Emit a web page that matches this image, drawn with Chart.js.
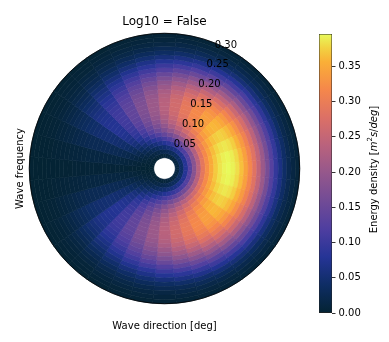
<!DOCTYPE html>
<html>
<head>
    <title>Wave spectrum</title>
    <script src="https://cdn.jsdelivr.net/npm/chart.js"></script>
    <style>
        body { margin: 0; background: #fff; }
        #wrap { position: relative; width: 389px; height: 342px; }
        #wrap canvas { position: absolute; top: 0; }
    </style>
</head>
<body>
<div id="wrap">
    <canvas id="polarChart" width="389" height="342" style="left:0"></canvas>
    <canvas id="cbarChart" width="89" height="342" style="left:300px"></canvas>
</div>
<script>
// frequency bins (Hz), direction bins (deg, nautical, clockwise from N)
const frequencies = [0.03, 0.04, 0.05, 0.06, 0.07, 0.08, 0.09, 0.10, 0.11, 0.12, 0.13, 0.14, 0.15, 0.16,
    0.17, 0.18, 0.19, 0.20, 0.21, 0.22, 0.23, 0.24, 0.25, 0.26, 0.27, 0.28, 0.29, 0.30, 0.31];
const directions = [0, 10, 20, 30, 40, 50, 60, 70, 80, 90, 100, 110, 120, 130, 140, 150, 160, 170,
    180, 190, 200, 210, 220, 230, 240, 250, 260, 270, 280, 290, 300, 310, 320, 330, 340, 350];

// energy density, one row per frequency, one column per direction
const energy = [
    [.007,.008,.009,.010,.010,.011,.011,.012,.012,.012,.012,.012,.011,.011,.010,.010,.009,.008,.007,.006,.005,.004,.003,.002,.002,.001,0,0,0,.001,.002,.002,.003,.004,.005,.006],
    [.024,.027,.030,.032,.034,.036,.038,.039,.040,.040,.040,.039,.038,.036,.034,.032,.030,.027,.024,.021,.018,.014,.011,.008,.005,.003,.001,0,.001,.003,.005,.008,.011,.014,.018,.021],
    [.048,.054,.059,.064,.069,.073,.076,.078,.080,.080,.080,.078,.076,.073,.069,.064,.059,.054,.048,.042,.035,.028,.022,.016,.010,.006,.002,.001,.002,.006,.010,.016,.022,.028,.035,.042],
    [.078,.087,.096,.105,.112,.119,.124,.127,.129,.130,.129,.127,.124,.119,.112,.105,.096,.087,.078,.068,.057,.046,.035,.025,.016,.009,.004,.001,.004,.009,.016,.025,.035,.046,.057,.068],
    [.111,.124,.137,.149,.159,.169,.176,.181,.184,.185,.184,.181,.176,.169,.159,.149,.137,.124,.111,.096,.081,.066,.050,.036,.023,.013,.006,.002,.006,.013,.023,.036,.050,.066,.081,.096],
    [.144,.161,.178,.193,.207,.219,.228,.235,.239,.240,.239,.235,.228,.219,.207,.193,.178,.161,.144,.125,.106,.085,.065,.047,.030,.017,.007,.002,.007,.017,.030,.047,.065,.085,.106,.125],
    [.174,.194,.215,.233,.250,.264,.276,.284,.289,.290,.289,.284,.276,.264,.250,.233,.215,.194,.174,.151,.128,.103,.078,.057,.036,.020,.009,.003,.009,.020,.036,.057,.078,.103,.128,.151],
    [.195,.218,.241,.262,.280,.296,.309,.318,.323,.325,.323,.318,.309,.296,.280,.262,.241,.218,.195,.169,.143,.115,.088,.063,.041,.023,.010,.003,.010,.023,.041,.063,.088,.115,.143,.169],
    [.211,.236,.260,.283,.303,.321,.334,.344,.350,.352,.350,.344,.334,.321,.303,.283,.260,.236,.211,.183,.155,.125,.095,.069,.044,.025,.011,.004,.011,.025,.044,.069,.095,.125,.155,.183],
    [.223,.249,.275,.299,.321,.339,.353,.364,.370,.372,.370,.364,.353,.339,.321,.299,.275,.249,.223,.193,.164,.132,.100,.073,.047,.026,.011,.004,.011,.026,.047,.073,.100,.132,.164,.193],
    [.231,.258,.285,.310,.332,.351,.366,.377,.383,.385,.383,.377,.366,.351,.332,.310,.285,.258,.231,.200,.169,.137,.104,.075,.048,.027,.012,.004,.012,.027,.048,.075,.104,.137,.169,.200],
    [.236,.263,.291,.316,.339,.358,.373,.384,.391,.393,.391,.384,.373,.358,.339,.316,.291,.263,.236,.204,.173,.140,.106,.077,.049,.028,.012,.004,.012,.028,.049,.077,.106,.140,.173,.204],
    [.238,.265,.293,.319,.341,.361,.376,.387,.394,.396,.394,.387,.376,.361,.341,.319,.293,.265,.238,.206,.174,.141,.107,.077,.050,.028,.012,.004,.012,.028,.050,.077,.107,.141,.174,.206],
    [.235,.263,.290,.316,.338,.358,.372,.383,.390,.392,.390,.383,.372,.358,.338,.316,.290,.263,.235,.204,.172,.139,.106,.076,.049,.027,.012,.004,.012,.027,.049,.076,.106,.139,.172,.204],
    [.229,.256,.283,.308,.329,.348,.363,.374,.380,.382,.380,.374,.363,.348,.329,.308,.283,.256,.229,.199,.168,.136,.103,.074,.048,.027,.011,.004,.011,.027,.048,.074,.103,.136,.168,.199],
    [.220,.245,.271,.295,.315,.334,.348,.358,.364,.366,.364,.358,.348,.334,.315,.295,.271,.245,.220,.190,.161,.130,.099,.071,.046,.026,.011,.004,.011,.026,.046,.071,.099,.130,.161,.190],
    [.206,.230,.255,.277,.297,.314,.327,.336,.342,.344,.342,.336,.327,.314,.297,.277,.255,.230,.206,.179,.151,.122,.093,.067,.043,.024,.010,.003,.010,.024,.043,.067,.093,.122,.151,.179],
    [.190,.212,.234,.254,.272,.288,.300,.309,.314,.316,.314,.309,.300,.288,.272,.254,.234,.212,.190,.164,.139,.112,.085,.062,.040,.022,.009,.003,.009,.022,.040,.062,.085,.112,.139,.164],
    [.170,.190,.209,.228,.244,.258,.269,.277,.282,.283,.282,.277,.269,.258,.244,.228,.209,.190,.170,.147,.125,.100,.076,.055,.035,.020,.008,.003,.008,.020,.035,.055,.076,.100,.125,.147],
    [.148,.165,.182,.198,.212,.224,.234,.241,.245,.246,.245,.241,.234,.224,.212,.198,.182,.165,.148,.128,.108,.087,.066,.048,.031,.017,.007,.002,.007,.017,.031,.048,.066,.087,.108,.128],
    [.124,.138,.152,.166,.178,.188,.196,.201,.205,.206,.205,.201,.196,.188,.178,.166,.152,.138,.124,.107,.091,.073,.056,.040,.026,.014,.006,.002,.006,.014,.026,.040,.056,.073,.091,.107],
    [.100,.111,.123,.134,.143,.151,.158,.162,.165,.166,.165,.162,.158,.151,.143,.134,.123,.111,.100,.086,.073,.059,.045,.032,.021,.012,.005,.002,.005,.012,.021,.032,.045,.059,.073,.086],
    [.077,.086,.095,.103,.110,.117,.122,.125,.127,.128,.127,.125,.122,.117,.110,.103,.095,.086,.077,.067,.056,.045,.035,.025,.016,.009,.004,.001,.004,.009,.016,.025,.035,.045,.056,.067],
    [.056,.063,.070,.076,.081,.086,.089,.092,.094,.094,.094,.092,.089,.086,.081,.076,.070,.063,.056,.049,.041,.033,.025,.018,.012,.007,.003,.001,.003,.007,.012,.018,.025,.033,.041,.049],
    [.038,.043,.047,.052,.055,.058,.061,.063,.064,.064,.064,.063,.061,.058,.055,.052,.047,.043,.038,.033,.028,.023,.017,.012,.008,.004,.002,.001,.002,.004,.008,.012,.017,.023,.028,.033],
    [.025,.027,.030,.033,.035,.037,.039,.040,.041,.041,.041,.040,.039,.037,.035,.033,.030,.027,.025,.021,.018,.015,.011,.008,.005,.003,.001,0,.001,.003,.005,.008,.011,.015,.018,.021],
    [.014,.016,.018,.019,.021,.022,.023,.023,.024,.024,.024,.023,.023,.022,.021,.019,.018,.016,.014,.012,.011,.009,.006,.005,.003,.002,.001,0,.001,.002,.003,.005,.006,.009,.011,.012],
    [.008,.009,.010,.010,.011,.012,.012,.013,.013,.013,.013,.013,.012,.012,.011,.010,.010,.009,.008,.007,.006,.005,.004,.003,.002,.001,0,0,0,.001,.002,.003,.004,.005,.006,.007],
    [.004,.004,.004,.005,.005,.005,.006,.006,.006,.006,.006,.006,.006,.005,.005,.005,.004,.004,.004,.003,.003,.002,.002,.001,.001,0,0,0,0,0,.001,.001,.002,.002,.003,.003]
];

const freqTicks = [0.05, 0.10, 0.15, 0.20, 0.25, 0.30];
const cbarTicks = [0.00, 0.05, 0.10, 0.15, 0.20, 0.25, 0.30, 0.35];

Chart.defaults.font.family = '"DejaVu Sans", sans-serif';
Chart.defaults.font.size = 10;
Chart.defaults.color = '#000';

// thermal colormap (approx)
const thermalStops = [
    [0.00, 4, 35, 51], [0.10, 14, 45, 100], [0.20, 37, 52, 150], [0.30, 78, 62, 160],
    [0.40, 113, 75, 150], [0.50, 148, 87, 140], [0.60, 185, 98, 125], [0.70, 220, 112, 102],
    [0.80, 245, 135, 75], [0.90, 250, 175, 55], [0.95, 242, 210, 65], [1.00, 232, 250, 91]
];
function thermal(t) {
    t = Math.max(0, Math.min(1, t));
    for (let i = 1; i < thermalStops.length; i++) {
        const a = thermalStops[i - 1], b = thermalStops[i];
        if (t <= b[0]) {
            const k = (t - a[0]) / (b[0] - a[0]);
            const c = [1, 2, 3].map(j => Math.round(a[j] + (b[j] - a[j]) * k));
            return `rgb(${c[0]},${c[1]},${c[2]})`;
        }
    }
    return 'rgb(232,250,91)';
}

const vmax = Math.max(...energy.flat());
const fStep = frequencies[1] - frequencies[0];
const fLow = frequencies[0] - fStep / 2;
const fHigh = frequencies[frequencies.length - 1] + fStep / 2;
const dirStep = 360 / directions.length;

// one doughnut ring per frequency bin, outermost first
const rings = frequencies.map((f, i) => {
    const colors = energy[i].map(v => thermal(v / vmax));
    return {
        label: f.toFixed(2),
        data: directions.map(() => dirStep),
        backgroundColor: colors,
        borderColor: colors,
        borderWidth: 0.6,
        hoverOffset: 0,
        weight: fStep
    };
}).reverse();

const polarText = {
    id: 'polarText',
    afterDatasetsDraw(chart) {
        const { ctx, chartArea: a } = chart;
        const outer = chart.getDatasetMeta(0).data[0].outerRadius;
        const cx = (a.left + a.right) / 2, cy = (a.top + a.bottom) / 2;
        const pxPerHz = outer / fHigh;
        const ang = 22.5 * Math.PI / 180;
        ctx.save();
        // polar spine
        ctx.beginPath();
        ctx.arc(cx, cy, outer, 0, Math.PI * 2);
        ctx.strokeStyle = '#000';
        ctx.lineWidth = 0.8;
        ctx.stroke();
        ctx.font = '10px "DejaVu Sans"';
        ctx.fillStyle = '#000';
        ctx.textAlign = 'left';
        ctx.textBaseline = 'alphabetic';
        freqTicks.forEach(t => {
            const r = t * pxPerHz;
            ctx.fillText(t.toFixed(2), cx + r * Math.sin(ang) + 1, cy - r * Math.cos(ang) - 2);
        });
        ctx.textAlign = 'center';
        ctx.textBaseline = 'middle';
        ctx.fillText('Wave direction [deg]', cx, a.bottom + 22);
        ctx.translate(a.left - 9, cy);
        ctx.rotate(-Math.PI / 2);
        ctx.fillText('Wave frequency', 0, 0);
        ctx.restore();
    }
};

new Chart(document.getElementById('polarChart'), {
    type: 'doughnut',
    data: { labels: directions.map(String), datasets: rings },
    options: {
        responsive: false,
        animation: false,
        events: [],
        rotation: -dirStep / 2,
        cutout: (fLow / fHigh * 100) + '%',
        layout: { padding: { left: 29, right: 89, top: 0, bottom: 38 } },
        plugins: {
            legend: { display: false },
            tooltip: { enabled: false },
            title: {
                display: true,
                text: 'Log10 = False',
                color: '#000',
                font: { size: 12, weight: 'normal' },
                padding: { top: 14.6, bottom: 4 }
            }
        }
    },
    plugins: [polarText]
});

const cbarLabel = {
    id: 'cbarLabel',
    afterDraw(chart) {
        const { ctx, chartArea: a } = chart;
        const parts = [
            ['Energy density [', '10px "DejaVu Sans"', 0],
            ['m', 'italic 10px "DejaVu Sans"', 0],
            ['2', '7px "DejaVu Sans"', -4],
            ['s', 'italic 10px "DejaVu Sans"', 0],
            ['/', '10px "DejaVu Sans"', 0],
            ['deg', 'italic 10px "DejaVu Sans"', 0],
            [']', '10px "DejaVu Sans"', 0]
        ];
        ctx.save();
        let total = 0;
        parts.forEach(p => { ctx.font = p[1]; total += ctx.measureText(p[0]).width; });
        ctx.translate(a.right + 42, (a.top + a.bottom) / 2 - 4);
        ctx.rotate(-Math.PI / 2);
        ctx.fillStyle = '#000';
        ctx.textAlign = 'left';
        ctx.textBaseline = 'middle';
        let x = -total / 2;
        parts.forEach(p => {
            ctx.font = p[1];
            ctx.fillText(p[0], x, p[2]);
            x += ctx.measureText(p[0]).width;
        });
        ctx.restore();
    }
};

new Chart(document.getElementById('cbarChart'), {
    type: 'bar',
    data: {
        labels: ['energy'],
        datasets: [{
            data: [[0, vmax]],
            backgroundColor(c) {
                const a = c.chart.chartArea;
                if (!a) return null;
                const g = c.chart.ctx.createLinearGradient(0, a.bottom, 0, a.top);
                thermalStops.forEach(s => g.addColorStop(s[0], `rgb(${s[1]},${s[2]},${s[3]})`));
                return g;
            },
            borderColor: '#222',
            borderWidth: 0.8,
            borderSkipped: false,
            barPercentage: 1,
            categoryPercentage: 1
        }]
    },
    options: {
        responsive: false,
        animation: false,
        events: [],
        layout: { padding: { left: 19, top: 34, bottom: 29, right: 0 } },
        plugins: { legend: { display: false }, tooltip: { enabled: false } },
        scales: {
            x: { display: false },
            y: {
                position: 'right',
                min: 0,
                max: vmax,
                afterBuildTicks: s => { s.ticks = cbarTicks.map(v => ({ value: v })); },
                afterFit: s => { s.width = 57; },
                ticks: { callback: v => v.toFixed(2), color: '#000', padding: 3 },
                grid: { drawOnChartArea: false, drawTicks: true, tickLength: 3.5, color: '#000', lineWidth: 0.8 },
                border: { display: false }
            }
        }
    },
    plugins: [cbarLabel]
});
</script>
</body>
</html>
